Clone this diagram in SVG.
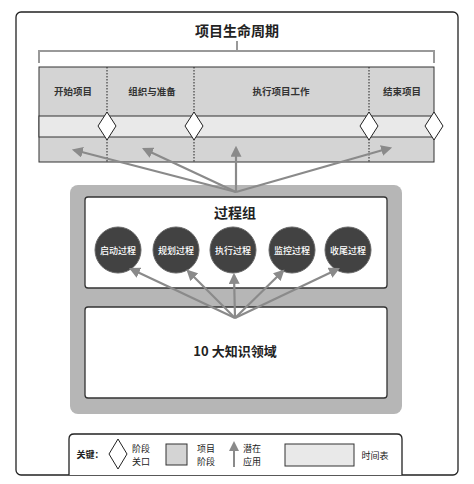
<svg xmlns="http://www.w3.org/2000/svg" width="474" height="484" viewBox="0 0 474 484">
<style>
text{font-family:"Noto Sans CJK SC","Noto Sans",sans-serif;text-anchor:middle;dominant-baseline:central;fill:#222}
.t{font-size:14px;font-weight:bold}
.ph{font-size:9.5px;font-weight:bold;fill:#333}
.c{font-size:9px;font-weight:500;fill:#fff}
.lg{font-size:9px;fill:#222}
.dot{stroke:#222;stroke-width:1;stroke-dasharray:1.5 1.5}
.dia{fill:#fff;stroke:#222;stroke-width:1}
.arr{stroke:#8a8a8a;stroke-width:2.2;fill:none;marker-end:url(#ah)}
.circ{fill:#424242;stroke:#666;stroke-width:1}
</style>
<defs>
<marker id="ah" viewBox="0 0 10 10" refX="8" refY="5" markerWidth="5" markerHeight="5" orient="auto" markerUnits="strokeWidth">
<path d="M0,0 L10,5 L0,10 z" fill="#8a8a8a"/>
</marker>
</defs>
<rect width="474" height="484" fill="#fff"/>
<rect x="16" y="12" width="442" height="463" rx="5" fill="#fff" stroke="#222" stroke-width="1.3"/>

<g id="lifecycle">
<text class="t" x="237" y="30">项目生命周期</text>
<path d="M39,63 V51 H434 V63 M237,41 V51" fill="none" stroke="#999" stroke-width="2"/>
<rect x="39" y="67" width="395" height="95" fill="#d4d4d4" stroke="#333" stroke-width="1"/>
<rect x="39" y="116" width="395" height="21" fill="#e9e9e9" stroke="#333" stroke-width="1"/>
<line class="dot" x1="107" y1="67" x2="107" y2="162"/>
<line class="dot" x1="194" y1="67" x2="194" y2="162"/>
<line class="dot" x1="369" y1="67" x2="369" y2="162"/>
<text class="ph" x="73" y="91">开始项目</text>
<text class="ph" x="152" y="91">组织与准备</text>
<text class="ph" x="281" y="91">执行项目工作</text>
<text class="ph" x="402" y="91">结束项目</text>
<polygon class="dia" points="107,112 116,126 107,140 98,126"/>
<polygon class="dia" points="194,112 203,126 194,140 185,126"/>
<polygon class="dia" points="369,112 378,126 369,140 360,126"/>
<polygon class="dia" points="434,112 443,126 434,140 425,126"/>
</g>

<g id="process-area">
<rect x="70" y="185" width="332" height="229" rx="8" fill="#b6b6b6"/>
</g>
<g id="process-groups">
<rect x="85" y="197" width="302" height="91" rx="3" fill="#fff" stroke="#333" stroke-width="1.3"/>
<text class="t" x="235" y="212">过程组</text>
</g>
<g id="c1"><circle class="circ" cx="118" cy="250" r="23"/><text class="c" x="118" y="250">启动过程</text></g>
<g id="c2"><circle class="circ" cx="176" cy="250" r="23"/><text class="c" x="176" y="250">规划过程</text></g>
<g id="c3"><circle class="circ" cx="233" cy="250" r="23"/><text class="c" x="233" y="250">执行过程</text></g>
<g id="c4"><circle class="circ" cx="292" cy="250" r="23"/><text class="c" x="292" y="250">监控过程</text></g>
<g id="c5"><circle class="circ" cx="348" cy="250" r="23"/><text class="c" x="348" y="250">收尾过程</text></g>
<g id="knowledge">
<rect x="85" y="307" width="302" height="91" rx="3" fill="#fff" stroke="#333" stroke-width="1.3"/>
<text class="t" x="235" y="350" style="font-size:13px">10 大知识领域</text>
</g>

<g id="connectors">
<line class="arr" x1="236" y1="192" x2="74" y2="150"/>
<line class="arr" x1="236" y1="192" x2="144" y2="149"/>
<line class="arr" x1="236" y1="192" x2="236" y2="148"/>
<line class="arr" x1="236" y1="192" x2="390" y2="148"/>
<line class="arr" x1="235" y1="318" x2="131" y2="269"/>
<line class="arr" x1="235" y1="318" x2="188" y2="271"/>
<line class="arr" x1="235" y1="318" x2="234" y2="275"/>
<line class="arr" x1="235" y1="318" x2="283" y2="271"/>
<line class="arr" x1="235" y1="318" x2="338" y2="269"/>
</g>

<g id="legend">
<path d="M69,475 V439 Q69,434 74,434 H397 Q402,434 402,439 V475" fill="#fff" stroke="#222" stroke-width="1.3"/>
<text class="lg" x="90" y="454" style="font-weight:bold">关键：</text>
<polygon class="dia" points="118,439 127,454 118,469 109,454"/>
<text class="lg" x="141" y="448.5">阶段</text>
<text class="lg" x="141" y="461">关口</text>
<rect x="166" y="444" width="21" height="21" fill="#d4d4d4" stroke="#333" stroke-width="1"/>
<text class="lg" x="206" y="448.5">项目</text>
<text class="lg" x="206" y="461">阶段</text>
<line x1="234" y1="467" x2="234" y2="443" stroke="#8a8a8a" stroke-width="2" marker-end="url(#ah)"/>
<text class="lg" x="252" y="448.5">潜在</text>
<text class="lg" x="252" y="461">应用</text>
<rect x="285" y="444" width="69" height="22" fill="#e9e9e9" stroke="#333" stroke-width="1"/>
<text class="lg" x="375" y="455">时间表</text>
</g>
</svg>
